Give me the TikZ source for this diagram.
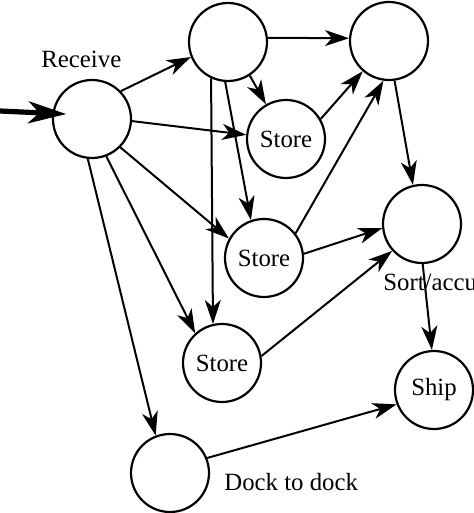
\documentclass[tikz,border=0pt]{standalone}
\usepackage{fontspec}
\setmainfont{Liberation Serif}
\usetikzlibrary{arrows.meta}

\begin{document}

\begin{tikzpicture}[x = 0.5pt, y = -0.5pt, every node/.style = {font = \fontsize{12.4}{14}\selectfont},
	station/.style = {draw, circle, line width = 1.1pt, minimum size = 39pt, inner sep = 0pt},
	flow/.style = {line width = 1pt, -{Stealth[length = 12pt, width = 8pt, inset = 3.5pt]}}]

	\useasboundingbox (0, 0) rectangle (474, 513);

	% Circles for the stations
	
	\node [station] (receive) at (92, 119) {};
	\node [station] (hold) at (228, 42) {};
	\node [station] (merge) at (389, 41) {};
	\node [station] (storeA) at (286, 139) {Store};
	\node [station] (storeB) at (264, 258) {Store};
	\node [station] (storeC) at (222, 363) {Store};
	\node [station] (sort) at (422, 224) {};
	\node [station] (ship) at (434, 390) {Ship};
	\node [station] (dock) at (170, 473) {};
	
	% Labels beside the circles
	
	\node [anchor = base west, inner sep = 0pt] (receivelabel) at (41, 68) {Receive};
	\node [anchor = base west, inner sep = 0pt] (sortlabel) at (383, 290) {Sort/accu};
	\node [anchor = base west, inner sep = 0pt] (docklabel) at (224, 490) {Dock to dock};
	
	% Incoming goods
	
	\coordinate (inlet) at (0, 111);
	\draw [line width = 2.6pt, shorten > = -7pt, -{Stealth[length = 19pt, width = 11pt, inset = 5.5pt]}]
		(inlet) -- (receive.172);
	
	% Flows between the stations
	
	\begin{scope}[flow]
	
		\draw (receive.44) -- (hold.202);
		\draw (receive.-3) -- (storeA.174);
		\draw (receive.-45) -- (storeB.151);
		\draw (receive.-69) -- (storeC.132);
		\draw (receive.-96) -- (dock.111);
		
		\draw (hold.6) -- (merge.176);
		\draw (hold.-57) -- (storeA.120);
		\draw (hold.-94) -- (storeB.109);
		\draw (hold.-115) -- (storeC.103);
		
		\draw (storeA.30) -- (merge.229);
		\draw (storeB.38) -- (merge.262);
		\draw (merge.-82) -- (sort.103);
		\draw (storeB.6) -- (sort.186);
		\draw (storeC.10) -- (sort.222);
		\draw (sort.-89) -- (ship.93);
		\draw (dock.22) -- (ship.201);
	
	\end{scope}
	
\end{tikzpicture}

\end{document}
